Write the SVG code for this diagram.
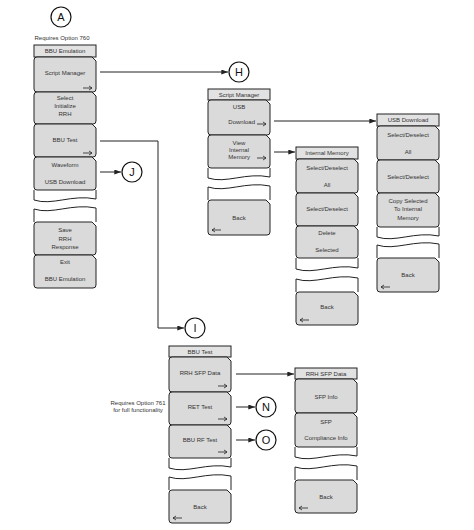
<svg xmlns="http://www.w3.org/2000/svg" xmlns:xlink="http://www.w3.org/1999/xlink" width="474" height="530" viewBox="0 0 474 530">
<style>
text{font-family:"Liberation Sans",Arial,sans-serif;font-size:6px;fill:#333;text-anchor:middle}
.lbl{font-size:11px;fill:#111}
.btn{fill:#dadada;stroke:#222;stroke-width:1}
.hdr{fill:#e2e2e2;stroke:#222;stroke-width:1}
.brk{fill:none;stroke:#222;stroke-width:1}
.ic{fill:none;stroke:#222;stroke-width:0.8}
.cn{fill:none;stroke:#222;stroke-width:1}
.cir{fill:#fff;stroke:#111;stroke-width:1.2}
</style>
<defs>
<marker id="ah" viewBox="0 0 8 6" refX="8" refY="3" markerWidth="7" markerHeight="5" orient="auto" markerUnits="userSpaceOnUse"><path d="M0,0L8,3L0,6z" fill="#222"/></marker>
<path id="ra" class="ic" d="M-9,0H0M-3,-2L0,0L-3,2"/>
<path id="la" class="ic" d="M9,0H0M3,-2L0,0L3,2"/>
</defs>

<g id="circle-A"><circle class="cir" cx="61" cy="17" r="10"/><text class="lbl" x="61" y="21">A</text></g>
<text x="62" y="40">Requires Option 760</text>

<g id="col-bbu-emulation">
<rect class="hdr" x="34" y="45" width="62" height="12"/><text x="65" y="53">BBU Emulation</text>
<g transform="translate(34,57)"><path class="btn" d="M3,0h55l4,4v28q0,3-3,3h-56q-3,0-3-3v-29q0-3,3-3z"/><text x="31" y="18">Script Manager</text><use xlink:href="#ra" x="58" y="31"/></g>
<g transform="translate(34,92)"><path class="btn" d="M3,0h55l4,4v25q0,3-3,3h-56q-3,0-3-3v-26q0-3,3-3z"/><text x="31" y="8">Select</text><text x="31" y="16">Initialize</text><text x="31" y="24">RRH</text></g>
<g transform="translate(34,124)"><path class="btn" d="M3,0h55l4,4v26q0,3-3,3h-56q-3,0-3-3v-27q0-3,3-3z"/><text x="31" y="18">BBU Test</text><use xlink:href="#ra" x="58" y="29"/></g>
<g transform="translate(34,157)"><path class="btn" d="M3,0h55l4,4v26q0,3-3,3h-56q-3,0-3-3v-27q0-3,3-3z"/><text x="31" y="10">Waveform</text><text x="31" y="27">USB Download</text></g>
<g transform="translate(34,190)"><path class="brk" d="M0,0V10C18,16 38,4 62,9V0"/><path class="brk" d="M0,32V19C18,25 38,13 62,18V32"/></g>
<g transform="translate(34,222)"><path class="btn" d="M3,0h55l4,4v26q0,3-3,3h-56q-3,0-3-3v-27q0-3,3-3z"/><text x="31" y="10">Save</text><text x="31" y="19">RRH</text><text x="31" y="27">Response</text></g>
<g transform="translate(34,255)"><path class="btn" d="M3,0h55l4,4v26q0,3-3,3h-56q-3,0-3-3v-27q0-3,3-3z"/><text x="31" y="9">Exit</text><text x="31" y="26">BBU Emulation</text></g>
</g>

<g id="circle-H"><circle class="cir" cx="239" cy="72" r="10"/><text class="lbl" x="239" y="76">H</text></g>
<g id="col-script-manager">
<rect class="hdr" x="208" y="89" width="62" height="11"/><text x="239" y="97">Script Manager</text>
<g transform="translate(208,100)"><path class="btn" d="M3,0h55l4,4v28q0,3-3,3h-56q-3,0-3-3v-29q0-3,3-3z"/><text x="31" y="9">USB</text><text x="47" y="24" style="text-anchor:end">Download</text><use xlink:href="#ra" x="58" y="24"/></g>
<g transform="translate(208,135)"><path class="btn" d="M3,0h55l4,4v26q0,3-3,3h-56q-3,0-3-3v-27q0-3,3-3z"/><text x="31" y="10">View</text><text x="31" y="17">Internal</text><text x="42" y="24" style="text-anchor:end">Memory</text><use xlink:href="#ra" x="58" y="23"/></g>
<g transform="translate(208,168)"><path class="brk" d="M0,0V10C18,16 38,4 62,9V0"/><path class="brk" d="M0,32V19C18,25 38,13 62,18V32"/></g>
<g transform="translate(208,200)"><path class="btn" d="M3,0h55l4,4v28q0,3-3,3h-56q-3,0-3-3v-29q0-3,3-3z"/><text x="31" y="20">Back</text><use xlink:href="#la" x="4" y="30"/></g>
</g>

<g id="col-internal-memory">
<rect class="hdr" x="296" y="147" width="62" height="12"/><text x="327" y="155">Internal Memory</text>
<g transform="translate(296,159)"><path class="btn" d="M3,0h55l4,4v27q0,3-3,3h-56q-3,0-3-3v-28q0-3,3-3z"/><text x="31" y="11">Select/Deselect</text><text x="31" y="28">All</text></g>
<g transform="translate(296,193)"><path class="btn" d="M3,0h55l4,4v26q0,3-3,3h-56q-3,0-3-3v-27q0-3,3-3z"/><text x="31" y="18">Select/Deselect</text></g>
<g transform="translate(296,226)"><path class="btn" d="M3,0h55l4,4v25q0,3-3,3h-56q-3,0-3-3v-26q0-3,3-3z"/><text x="31" y="9">Delete</text><text x="31" y="26">Selected</text></g>
<g transform="translate(296,258)"><path class="brk" d="M0,0V11C18,17 38,5 62,10V0"/><path class="brk" d="M0,34V21C18,27 38,15 62,20V34"/></g>
<g transform="translate(296,292)"><path class="btn" d="M3,0h55l4,4v26q0,3-3,3h-56q-3,0-3-3v-27q0-3,3-3z"/><text x="31" y="17">Back</text><use xlink:href="#la" x="4" y="28"/></g>
</g>

<g id="col-usb-download">
<rect class="hdr" x="377" y="114" width="62" height="12"/><text x="408" y="122">USB Download</text>
<g transform="translate(377,126)"><path class="btn" d="M3,0h55l4,4v27q0,3-3,3h-56q-3,0-3-3v-28q0-3,3-3z"/><text x="31" y="11">Select/Deselect</text><text x="31" y="28">All</text></g>
<g transform="translate(377,160)"><path class="btn" d="M3,0h55l4,4v26q0,3-3,3h-56q-3,0-3-3v-27q0-3,3-3z"/><text x="31" y="19">Select/Deselect</text></g>
<g transform="translate(377,193)"><path class="btn" d="M3,0h55l4,4v27q0,3-3,3h-56q-3,0-3-3v-28q0-3,3-3z"/><text x="31" y="10">Copy Selected</text><text x="31" y="18">To Internal</text><text x="31" y="27">Memory</text></g>
<g transform="translate(377,227)"><path class="brk" d="M0,0V10C18,16 38,4 62,9V0"/><path class="brk" d="M0,31V18C18,24 38,12 62,17V31"/></g>
<g transform="translate(377,258)"><path class="btn" d="M3,0h55l4,4v27q0,3-3,3h-56q-3,0-3-3v-28q0-3,3-3z"/><text x="31" y="19">Back</text><use xlink:href="#la" x="4" y="29"/></g>
</g>

<g id="circle-J"><circle class="cir" cx="132" cy="172" r="10"/><text class="lbl" x="132" y="176">J</text></g>
<g id="circle-I"><circle class="cir" cx="195" cy="328" r="10"/><text class="lbl" x="195" y="332">I</text></g>

<text x="138" y="405">Requires Option 761</text>
<text x="138" y="412">for full functionality</text>

<g id="col-bbu-test">
<rect class="hdr" x="169" y="346" width="62" height="11"/><text x="200" y="354">BBU Test</text>
<g transform="translate(169,357)"><path class="btn" d="M3,0h55l4,4v28q0,3-3,3h-56q-3,0-3-3v-29q0-3,3-3z"/><text x="31" y="18">RRH SFP Data</text><use xlink:href="#ra" x="58" y="29"/></g>
<g transform="translate(169,392)"><path class="btn" d="M3,0h55l4,4v26q0,3-3,3h-56q-3,0-3-3v-27q0-3,3-3z"/><text x="31" y="17">RET Test</text><use xlink:href="#ra" x="58" y="27"/></g>
<g transform="translate(169,425)"><path class="btn" d="M3,0h55l4,4v26q0,3-3,3h-56q-3,0-3-3v-27q0-3,3-3z"/><text x="31" y="17">BBU RF Test</text><use xlink:href="#ra" x="58" y="27"/></g>
<g transform="translate(169,458)"><path class="brk" d="M0,0V10C18,16 38,4 62,9V0"/><path class="brk" d="M0,32V19C18,25 38,13 62,18V32"/></g>
<g transform="translate(169,490)"><path class="btn" d="M3,0h55l4,4v26q0,3-3,3h-56q-3,0-3-3v-27q0-3,3-3z"/><text x="31" y="19">Back</text><use xlink:href="#la" x="4" y="28"/></g>
</g>

<g id="circle-N"><circle class="cir" cx="266" cy="407" r="10"/><text class="lbl" x="266" y="411">N</text></g>
<g id="circle-O"><circle class="cir" cx="266" cy="440" r="10"/><text class="lbl" x="266" y="444">O</text></g>

<g id="col-rrh-sfp-data">
<rect class="hdr" x="295" y="368" width="62" height="11"/><text x="326" y="376">RRH SFP Data</text>
<g transform="translate(295,379)"><path class="btn" d="M3,0h55l4,4v27q0,3-3,3h-56q-3,0-3-3v-28q0-3,3-3z"/><text x="31" y="20">SFP Info</text></g>
<g transform="translate(295,413)"><path class="btn" d="M3,0h55l4,4v27q0,3-3,3h-56q-3,0-3-3v-28q0-3,3-3z"/><text x="31" y="11">SFP</text><text x="31" y="27">Compliance Info</text></g>
<g transform="translate(295,447)"><path class="brk" d="M0,0V10C18,16 38,4 62,9V0"/><path class="brk" d="M0,33V20C18,26 38,14 62,19V33"/></g>
<g transform="translate(295,480)"><path class="btn" d="M3,0h55l4,4v26q0,3-3,3h-56q-3,0-3-3v-27q0-3,3-3z"/><text x="31" y="19">Back</text><use xlink:href="#la" x="4" y="28"/></g>
</g>

<g id="connectors">
<path class="cn" d="M100,72H228" marker-end="url(#ah)"/>
<path class="cn" d="M100,141H158V328H184" marker-end="url(#ah)"/>
<path class="cn" d="M100,172H121" marker-end="url(#ah)"/>
<path class="cn" d="M274,121H376" marker-end="url(#ah)"/>
<path class="cn" d="M274,152H295" marker-end="url(#ah)"/>
<path class="cn" d="M236,374H294" marker-end="url(#ah)"/>
<path class="cn" d="M236,407H255" marker-end="url(#ah)"/>
<path class="cn" d="M236,440H255" marker-end="url(#ah)"/>
</g>
</svg>
